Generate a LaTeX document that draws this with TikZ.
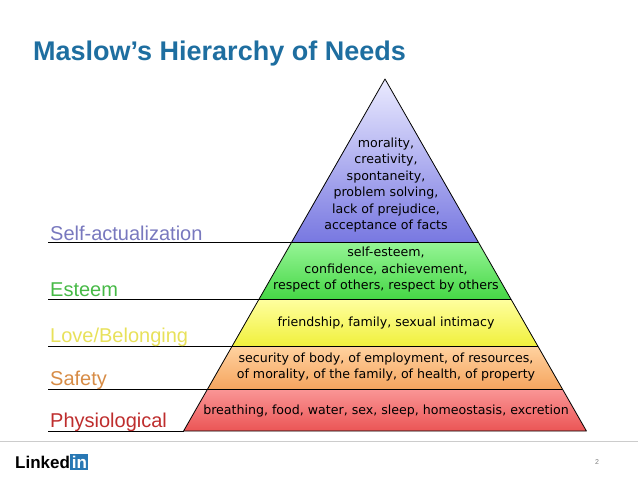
\documentclass[tikz,border=0pt]{standalone}
\usepackage{fontspec}
\setmainfont{Liberation Sans}
\newfontfamily\dv{DejaVu Sans}
\begin{document}
\begin{tikzpicture}[x=1pt,y=-1pt,
  band/.style={draw=black,line width=0.8pt},
  lvl/.style={anchor=base west,font=\fontsize{20}{20}\selectfont,inner sep=0},
  txt/.style={align=center,font=\dv\fontsize{12.6}{16.5}\selectfont,inner sep=0}]
\useasboundingbox (0,0) rectangle (638,479);
\def\xl#1{385-(#1-79)*0.57224}
\def\xr#1{385+(#1-79)*0.57224}
\node[anchor=base west,inner sep=0,text={rgb,255:red,30;green,110;blue,160},font=\bfseries\fontsize{27}{27}\selectfont] (title) at (33,60) {Maslow’s Hierarchy of Needs};
% bands
\shade[top color=blue!8,bottom color={rgb,255:red,120;green,120;blue,225}] (385,79) -- ({\xr{242}},242) -- ({\xl{242}},242) -- cycle;
\shade[top color={rgb,255:red,150;green,245;blue,150},bottom color={rgb,255:red,70;green,215;blue,70}] ({\xl{242}},242) -- ({\xr{242}},242) -- ({\xr{299}},299) -- ({\xl{299}},299) -- cycle;
\shade[top color={rgb,255:red,255;green,255;blue,160},bottom color={rgb,255:red,240;green,240;blue,60}] ({\xl{299}},299) -- ({\xr{299}},299) -- ({\xr{346}},346) -- ({\xl{346}},346) -- cycle;
\shade[top color={rgb,255:red,255;green,210;blue,160},bottom color={rgb,255:red,245;green,165;blue,95}] ({\xl{346}},346) -- ({\xr{346}},346) -- ({\xr{389}},389) -- ({\xl{389}},389) -- cycle;
\shade[top color={rgb,255:red,250;green,150;blue,150},bottom color={rgb,255:red,235;green,85;blue,85}] ({\xl{389}},389) -- ({\xr{389}},389) -- ({\xr{431}},431) -- ({\xl{431}},431) -- cycle;
\coordinate (apex) at (385,79);
\coordinate (bl) at ({\xl{431}},431);
\coordinate (br) at ({\xr{431}},431);
\draw[band,line join=round] (apex) -- (br) -- (bl) -- cycle;
\foreach \y in {242,299,346,389}{\draw[band] (48,\y) -- ({\xr{\y}},\y);}
\draw[band] (48,431) -- (bl);
% labels
\node[lvl,text={rgb,255:red,120;green,120;blue,190}] (l1) at (50,240) {Self-actualization};
\node[lvl,text={rgb,255:red,70;green,185;blue,70}] (l2) at (50,296) {Esteem};
\node[lvl,text={rgb,255:red,232;green,225;blue,90}] (l3) at (50,342) {Love/Belonging};
\node[lvl,text={rgb,255:red,215;green,140;blue,70}] (l4) at (50,385) {Safety};
\node[lvl,text={rgb,255:red,190;green,45;blue,45}] (l5) at (50,427) {Physiological};
% texts
\node[txt] (t1) at (386,185) {morality,\\creativity,\\spontaneity,\\problem solving,\\lack of prejudice,\\acceptance of facts};
\node[txt] (t2) at (386,270) {self-esteem,\\confidence, achievement,\\respect of others, respect by others};
\node[txt] (t3) at (386,323) {friendship, family, sexual intimacy};
\node[txt] (t4) at (386,367) {security of body, of employment, of resources,\\of morality, of the family, of health, of property};
\node[txt] (t5) at (386,411) {breathing, food, water, sex, sleep, homeostasis, excretion};
% footer
\draw[gray!40,line width=0.8pt] (0,441) -- (638,441);
\node[anchor=base west,inner sep=0,font=\bfseries\fontsize{17}{17}\selectfont] (li) at (15,468) {Linked};
\node[anchor=base west,inner sep=1.5pt,fill={rgb,255:red,40;green,120;blue,180},text=white,font=\bfseries\fontsize{17}{17}\selectfont] (in) at (li.base east) {in};
\node[anchor=base,inner sep=0,text=gray,font=\fontsize{7}{7}\selectfont] (pg) at (597,464) {2};
\end{tikzpicture}
\end{document}
